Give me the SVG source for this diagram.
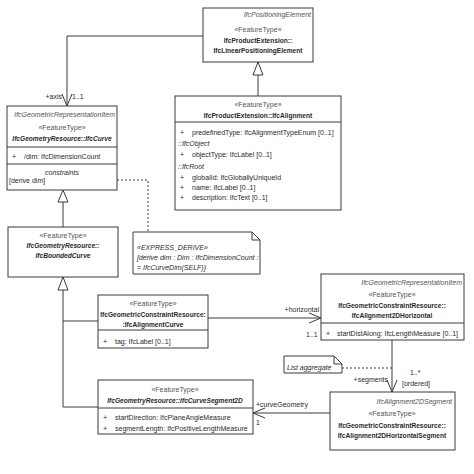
<svg xmlns="http://www.w3.org/2000/svg" width="474" height="474" viewBox="0 0 474 474">
<style>
text{font-family:"Liberation Sans",Arial,sans-serif;font-size:7px;fill:#2a2a2a}
.c{text-anchor:middle}
.r{text-anchor:end}
.b{font-weight:bold;font-size:6.6px}
.i{font-style:italic}
.st{fill:#555}
.box{fill:#fff;stroke:#3a3a3a;stroke-width:1}
.ln{fill:none;stroke:#3a3a3a;stroke-width:1}
.dash{fill:none;stroke:#3a3a3a;stroke-width:1;stroke-dasharray:2,2}
.tri{fill:#fff;stroke:#3a3a3a;stroke-width:1}
</style>
<rect width="474" height="474" fill="#fff"/>
<g id="connectors">
  <path class="ln" d="M203,36H67V106"/>
  <path class="ln" d="M62,94L67,106L72,94"/>
  <text class="r" x="62" y="99">+axis</text>
  <text x="72" y="99">1..1</text>
  <path class="ln" d="M258,96V75"/>
  <path class="tri" d="M258,62L253,75H263Z"/>
  <path class="ln" d="M63,227V202"/>
  <path class="tri" d="M63,190L58,202H68Z"/>
  <path class="ln" d="M63,290V407H98M63,321H98"/>
  <path class="tri" d="M63,277L58,290H68Z"/>
  <path class="dash" d="M117,180H148V232"/>
  <path class="ln" d="M208,318H321"/>
  <path class="ln" d="M309,313L321,318L309,323"/>
  <text class="r" x="319" y="312">+horizontal</text>
  <text x="306" y="337">1..1</text>
  <path class="ln" d="M392,340V392"/>
  <path class="ln" d="M387,380L392,392L397,380"/>
  <text class="r" x="388" y="382">+segments</text>
  <text x="410" y="375">1..*</text>
  <text x="402" y="386">[ordered]</text>
  <path class="dash" d="M342,368H392"/>
  <path class="ln" d="M330,413H253"/>
  <path class="ln" d="M265,408L253,413L265,418"/>
  <text x="256" y="407">+curveGeometry</text>
  <text x="256" y="425">1</text>
</g>
<g id="linearPositioningElement">
  <rect class="box" x="203" y="8" width="110" height="54"/>
  <text class="r i st" x="311" y="17">IfcPositioningElement</text>
  <text class="c st" x="258" y="32">«FeatureType»</text>
  <text class="c b" x="258" y="43">IfcProductExtension::</text>
  <text class="c b" x="258" y="52.5">IfcLinearPositioningElement</text>
</g>
<g id="alignment">
  <rect class="box" x="175" y="96" width="166" height="114"/>
  <line class="ln" x1="175" y1="122" x2="341" y2="122"/>
  <text class="c st" x="258" y="107">«FeatureType»</text>
  <text class="c b" x="258" y="118">IfcProductExtension::IfcAlignment</text>
  <text x="180" y="134.5">+</text><text x="192" y="134.5">predefinedType: IfcAlignmentTypeEnum [0..1]</text>
  <text class="i" x="178" y="145.5">::IfcObject</text>
  <text x="180" y="156.5">+</text><text x="192" y="156.5">objectType: IfcLabel [0..1]</text>
  <text class="i" x="178" y="168.5">::IfcRoot</text>
  <text x="180" y="179.5">+</text><text x="192" y="179.5">globalId: IfcGloballyUniqueId</text>
  <text x="180" y="189.5">+</text><text x="192" y="189.5">name: IfcLabel [0..1]</text>
  <text x="180" y="199.5">+</text><text x="192" y="199.5">description: IfcText [0..1]</text>
</g>
<g id="curve">
  <rect class="box" x="7" y="106" width="110" height="84"/>
  <text class="r i st" x="115" y="117">IfcGeometricRepresentationItem</text>
  <text class="c st" x="62" y="130">«FeatureType»</text>
  <text class="c b i" x="62" y="140.5">IfcGeometryResource::IfcCurve</text>
  <line class="ln" x1="7" y1="147" x2="117" y2="147"/>
  <text x="12" y="158.5">+</text><text x="24" y="158.5">/dim: IfcDimensionCount</text>
  <line class="ln" x1="7" y1="164" x2="117" y2="164"/>
  <text class="c i" x="62" y="174.5">constraints</text>
  <text x="9" y="182.5">[derive dim]</text>
</g>
<g id="boundedCurve">
  <rect class="box" x="8" y="227" width="110" height="50"/>
  <text class="c st" x="63" y="237.5">«FeatureType»</text>
  <text class="c b i" x="63" y="247.5">IfcGeometryResource::</text>
  <text class="c b i" x="63" y="257.5">IfcBoundedCurve</text>
</g>
<g id="deriveNote">
  <path class="box" d="M133,232H252L260,240V274H133Z"/>
  <path class="ln" d="M252,232V240H260"/>
  <text class="i" x="137" y="249.5">«EXPRESS_DERIVE»</text>
  <text class="i" x="137" y="259.5">[derive dim : Dim : IfcDimensionCount :</text>
  <text class="i" x="137" y="269.5">= IfcCurveDim(SELF)}</text>
</g>
<g id="alignmentCurve">
  <rect class="box" x="98" y="295" width="110" height="53"/>
  <text class="c st" x="153" y="305.5">«FeatureType»</text>
  <text class="c b" x="153" y="316.5">IfcGeometricConstraintResource:</text>
  <text class="c b" x="153" y="326.5">:IfcAlignmentCurve</text>
  <line class="ln" x1="98" y1="330" x2="208" y2="330"/>
  <text x="103" y="344">+</text><text x="115" y="344">tag: IfcLabel [0..1]</text>
</g>
<g id="alignment2DHorizontal">
  <rect class="box" x="321" y="274" width="143" height="66"/>
  <text class="r i st" x="462" y="284.5">IfcGeometricRepresentationItem</text>
  <text class="c st" x="392" y="296.5">«FeatureType»</text>
  <text class="c b" x="392" y="307.5">IfcGeometricConstraintResource::</text>
  <text class="c b" x="392" y="317.5">IfcAlignment2DHorizontal</text>
  <line class="ln" x1="321" y1="323" x2="464" y2="323"/>
  <text x="326" y="335.5">+</text><text x="337" y="335.5">startDistAlong: IfcLengthMeasure [0..1]</text>
</g>
<g id="listNote">
  <path class="box" d="M284,356H334L342,364V373H284Z"/>
  <path class="ln" d="M334,356V364H342"/>
  <text class="i" x="287" y="370">List aggregate</text>
</g>
<g id="alignment2DHorizontalSegment">
  <rect class="box" x="330" y="392" width="125" height="58"/>
  <text class="r i st" x="452" y="403.5">IfcAlignment2DSegment</text>
  <text class="c st" x="392" y="415.5">«FeatureType»</text>
  <text class="c b" x="392" y="427.5">IfcGeometricConstraintResource::</text>
  <text class="c b" x="392" y="437.5">IfcAlignment2DHorizontalSegment</text>
</g>
<g id="curveSegment2D">
  <rect class="box" x="98" y="380" width="155" height="54"/>
  <text class="c st" x="175" y="392">«FeatureType»</text>
  <text class="c b i" x="175" y="402.5">IfcGeometryResource::IfcCurveSegment2D</text>
  <line class="ln" x1="98" y1="408" x2="253" y2="408"/>
  <text x="103" y="419.5">+</text><text x="115" y="419.5">startDirection: IfcPlaneAngleMeasure</text>
  <text x="103" y="430.5">+</text><text x="115" y="430.5">segmentLength: IfcPositiveLengthMeasure</text>
</g>
</svg>
